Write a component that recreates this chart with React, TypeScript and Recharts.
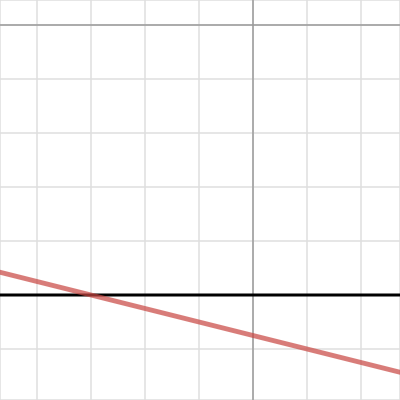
import { CartesianGrid, ComposedChart, Line, ReferenceLine, XAxis, YAxis } from "recharts";

// visible window of the graph (grid unit = 1)
const X_DOMAIN: [number, number] = [-4.685, 2.722];
const Y_DOMAIN: [number, number] = [-6.944, 0.463];
const X_TICKS = [-4, -3, -2, -1, 0, 1, 2];
const Y_TICKS = [-6, -5, -4, -3, -2, -1, 0];

// two plotted lines, sampled at the ends of the window
const xs = [-5, 3];
const redY = [-4.5, -6.5];
const blackY = [-5, -5];

const data = xs.map((x, i) => ({ x, red: redY[i], black: blackY[i] }));

export default function App() {
  return (
    <div style={{ position: "fixed", left: 0, top: 0, width: 400, height: 400, background: "#fff" }}>
      <ComposedChart width={400} height={400} data={data} margin={{ top: 0, right: 0, bottom: 0, left: 0 }}>
        <XAxis hide type="number" dataKey="x" domain={X_DOMAIN} ticks={X_TICKS} allowDataOverflow />
        <YAxis hide type="number" domain={Y_DOMAIN} ticks={Y_TICKS} allowDataOverflow />
        <CartesianGrid stroke="#dedede" strokeWidth={1.5} />
        <ReferenceLine x={0} stroke="#999" strokeWidth={1.5} />
        <ReferenceLine y={0} stroke="#999" strokeWidth={1.5} />
        <Line
          dataKey="black"
          stroke="#000"
          strokeWidth={3}
          dot={false}
          activeDot={false}
          isAnimationActive={false}
        />
        <Line
          dataKey="red"
          stroke="#c74440"
          strokeOpacity={0.7}
          strokeWidth={5}
          dot={false}
          activeDot={false}
          isAnimationActive={false}
        />
      </ComposedChart>
    </div>
  );
}
